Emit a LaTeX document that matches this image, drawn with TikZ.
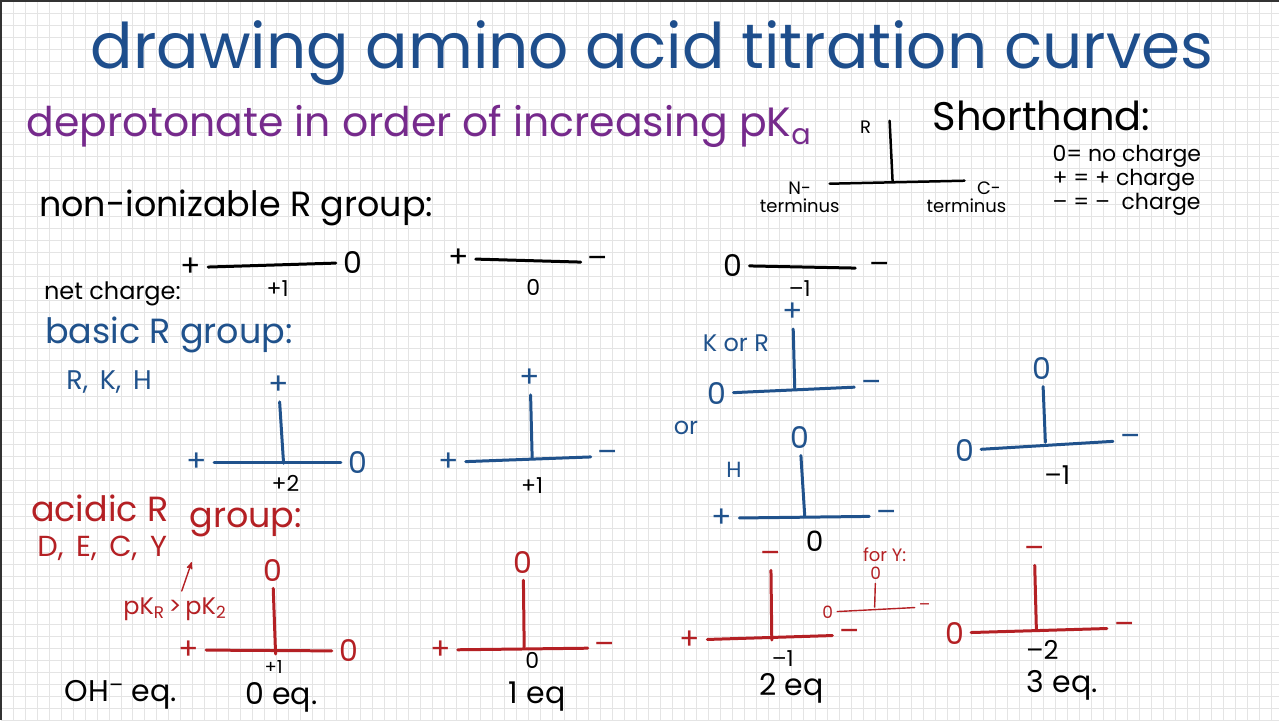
\documentclass[tikz,border=0pt]{standalone}
\usepackage{fontspec}
\setmainfont{Poppins}
\usetikzlibrary{arrows}

\definecolor{titleblue}{RGB}{30,78,140}
\definecolor{penblue}{RGB}{32,82,140}
\definecolor{penpurple}{RGB}{118,42,140}
\definecolor{penred}{RGB}{180,32,36}
\definecolor{gridgray}{RGB}{228,228,228}

\tikzset{
  pen/.style={line width=3pt,line cap=round},
  thinpen/.style={line width=1.4pt,line cap=round},
  chg/.style={inner sep=7pt,font=\fontsize{30}{30}\selectfont},
  smallchg/.style={inner sep=4pt,font=\fontsize{17}{17}\selectfont},
  net/.style={inner sep=1pt,font=\fontsize{22}{22}\selectfont},
  head/.style={inner sep=0pt,font=\fontsize{35}{35}\selectfont},
  note/.style={inner sep=0pt,font=\fontsize{24}{24}\selectfont},
  eqlabel/.style={inner sep=0pt,font=\fontsize{30}{30}\selectfont}
}

\begin{document}
\begin{tikzpicture}[x=1pt,y=-1pt,>=stealth']
  % paper
  \fill[white] (0,0) rectangle (1280,720);
  \draw[gridgray,line width=0.6pt,xstep=12pt,ystep=12pt] (0,0) grid (1280,720);
  \draw[black!80,line width=2pt] (0,720) -- (0,0) -- (1280,0);
  \useasboundingbox (0,0) rectangle (1280,720);

  % headings
  \node[titleblue,font=\fontsize{63}{63}\selectfont] (title) at (652,52) {drawing amino acid titration curves};
  \node[penpurple,anchor=west,font=\fontsize{41}{41}\selectfont] (rule) at (22,126) {deprotonate in order of increasing pK\textsubscript{a}};
  \node[font=\fontsize{40}{40}\selectfont] (short) at (1042,115) {Shorthand:};

  % shorthand key
  \node[font=\fontsize{18}{18}\selectfont] (kR) at (866,126) {R};
  \coordinate (kL) at (830,183);
  \coordinate (kRt) at (965,180);
  \coordinate (kM) at (893,181);
  \coordinate (kT) at (890,120);
  \draw[pen,line width=2.5pt] (kL) -- (kRt);
  \draw[pen,line width=2.5pt] (kT) -- (kM);
  \node[font=\fontsize{18}{18}\selectfont,align=center,inner sep=0pt] (kN) at (800,197) {N-\\[0pt]terminus};
  \node[font=\fontsize{18}{18}\selectfont,align=center,inner sep=0pt] (kC) at (967,197) {\hspace*{2.5em}C-\\[0pt]terminus};
  \node[font=\fontsize{22}{24}\selectfont,align=left,anchor=north west,inner sep=0pt] (key) at (1053,144)
    {0= no charge\\+ = + charge\\– = – \ charge};

  % non-ionizable R group
  \node[head,anchor=west] (nonion) at (38,207) {non-ionizable R group:};
  \node[note,anchor=west] (netc) at (43,293) {net charge:};
  \node[chg] (n1l) at (190,267) {+};
  \node[chg] (n1r) at (352,262) {0};
  \node[net] (n1n) at (277,288) {+1};
  \draw[pen] (n1l) -- (n1r);
  \node[chg] (n2l) at (458,258) {+};
  \node[chg] (n2r) at (598,262) {–};
  \node[net] (n2n) at (533,287) {0};
  \draw[pen] (n2l) -- (n2r);
  \node[chg] (n3l) at (733,265) {0};
  \node[chg,inner sep=14pt] (n3r) at (880,268) {–};
  \node[net] (n3n) at (800,288) {–1};
  \draw[pen] (n3l) -- (n3r);

  % basic R group
  \begin{scope}[penblue]
    \node[head,anchor=west] (basic) at (44,334) {basic R group:};
    \node[font=\fontsize{27}{27}\selectfont,anchor=west] (rkh) at (62,382) {R,\, K,\, H};

    \node[chg] (b1t) at (278,385) {+};
    \node[chg] (b1l) at (196,462) {+};
    \node[chg] (b1r) at (357,462) {0};
    \coordinate (b1m) at (283,463);
    \node[net,black] (b1n) at (285,483) {+2};
    \draw[pen] (b1l) -- (b1r);
    \draw[pen] (b1t) -- (b1m);

    \node[chg] (b2t) at (530,378) {+};
    \node[chg] (b2l) at (448,462) {+};
    \node[chg] (b2r) at (608,456) {–};
    \coordinate (b2m) at (532,458);
    \node[net,black] (b2n) at (532,485) {+1};
    \draw[pen] (b2l) -- (b2r);
    \draw[pen] (b2t) -- (b2m);

    \node[font=\fontsize{24}{24}\selectfont] (kor) at (736,343) {K or R};
    \node[chg] (b3t) at (793,312) {+};
    \node[chg] (b3l) at (717,393) {0};
    \node[chg] (b3r) at (872,386) {–};
    \coordinate (b3m) at (795,388);
    \draw[pen] (b3l) -- (b3r);
    \draw[pen] (b3t) -- (b3m);

    \node[font=\fontsize{24}{24}\selectfont] (or) at (686,428) {or};

    \node[font=\fontsize{22}{22}\selectfont] (hh) at (734,470) {H};
    \node[chg] (b4t) at (800,437) {0};
    \node[chg] (b4l) at (722,518) {+};
    \node[chg] (b4r) at (887,516) {–};
    \coordinate (b4m) at (805,516);
    \node[net,black,font=\fontsize{28}{28}\selectfont] (b4n) at (815,541) {0};
    \draw[pen] (b4l) -- (b4r);
    \draw[pen] (b4t) -- (b4m);

    \node[chg] (b5t) at (1043,368) {0};
    \node[chg] (b5l) at (965,450) {0};
    \node[chg] (b5r) at (1131,440) {–};
    \coordinate (b5m) at (1046,442);
    \node[net,black,font=\fontsize{26}{26}\selectfont] (b5n) at (1058,475) {–1};
    \draw[pen] (b5l) -- (b5r);
    \draw[pen] (b5t) -- (b5m);
  \end{scope}

  % acidic R group
  \begin{scope}[penred]
    \node[head,anchor=west] (acidic) at (30,508) {acidic R};
    \node[head] (grp) at (245,522) {group:};
    \node[font=\fontsize{29}{29}\selectfont,anchor=west] (dec) at (33,548) {D,\, E,\, C,\, Y};
    \node[font=\fontsize{24}{24}\selectfont] (pk) at (174,609) {pK\textsubscript{R}\,>\,pK\textsubscript{2}};
    \coordinate (ytip) at (191,562);
    \draw[thinpen,->] (181,591) -- (ytip);

    \node[chg] (a1t) at (272,570) {0};
    \node[chg] (a1l) at (188,650) {+};
    \node[chg] (a1r) at (348,651) {0};
    \coordinate (a1m) at (275,654);
    \node[net,black,font=\fontsize{18}{18}\selectfont] (a1n) at (273,667) {+1};
    \draw[pen] (a1l) -- (a1r);
    \draw[pen] (a1t) -- (a1m);

    \node[chg] (a2t) at (523,562) {0};
    \node[chg] (a2l) at (440,650) {+};
    \node[chg] (a2r) at (605,648) {–};
    \coordinate (a2m) at (524,647);
    \node[net,black] (a2n) at (532,660) {0};
    \draw[pen] (a2l) -- (a2r);
    \draw[pen] (a2t) -- (a2m);

    \node[chg] (a3t) at (771,557) {–};
    \node[chg] (a3l) at (690,640) {+};
    \node[chg] (a3r) at (850,635) {–};
    \coordinate (a3m) at (772,640);
    \node[net,black] (a3n) at (783,659) {–1};
    \draw[pen] (a3l) -- (a3r);
    \draw[pen] (a3t) -- (a3m);

    % tyrosine side note
    \node[font=\fontsize{18}{18}\selectfont] (fory) at (885,555) {for Y:};
    \node[smallchg] (yt) at (876,573) {0};
    \node[smallchg] (yl) at (828,612) {0};
    \node[smallchg] (yr) at (925,607) {–};
    \coordinate (ym) at (875,607);
    \draw[thinpen] (yl) -- (yr);
    \draw[thinpen] (yt) -- (ym);

    \node[chg] (a4t) at (1035,552) {–};
    \node[chg] (a4l) at (955,633) {0};
    \node[chg] (a4r) at (1125,628) {–};
    \coordinate (a4m) at (1037,630);
    \node[net,black,font=\fontsize{26}{26}\selectfont] (a4n) at (1043,650) {–2};
    \draw[pen] (a4l) -- (a4r);
    \draw[pen] (a4t) -- (a4m);
  \end{scope}

  % equivalents of base
  \node[eqlabel] (oh) at (120,695) {OH\textsuperscript{–} eq.};
  \node[eqlabel] (eq0) at (281,697) {0 eq.};
  \node[eqlabel] (eq1) at (537,697) {1 eq};
  \node[eqlabel] (eq2) at (792,688) {2 eq};
  \node[eqlabel] (eq3) at (1063,685) {3 eq.};
\end{tikzpicture}
\end{document}
